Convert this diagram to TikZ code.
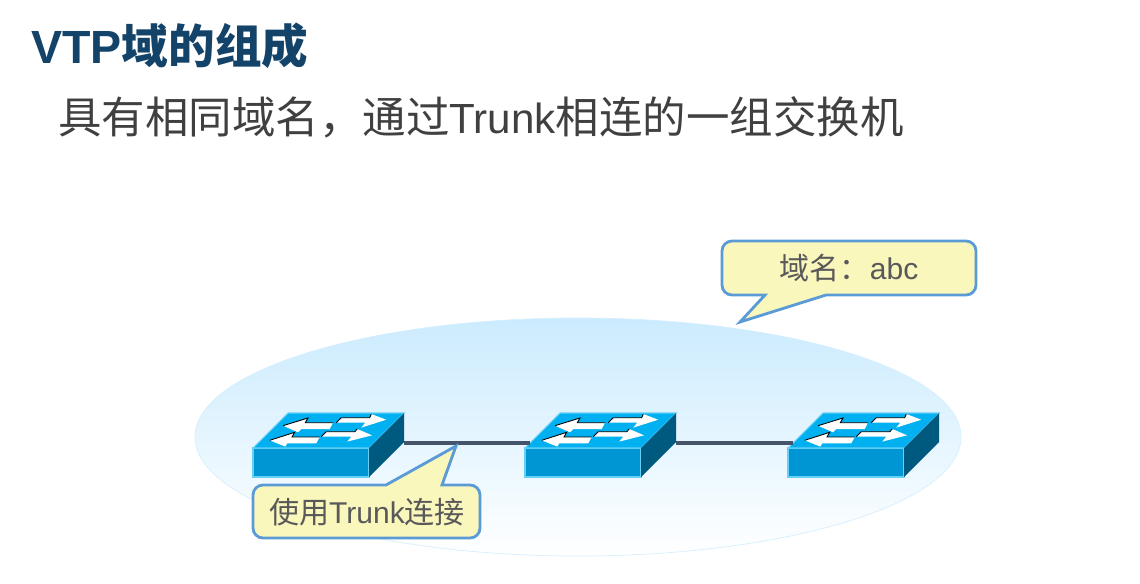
\documentclass[tikz,border=0pt]{standalone}
\usepackage{fontspec}
\setmainfont{Liberation Sans}
\newfontfamily\cjk{Noto Sans CJK SC}
\usetikzlibrary{positioning,calc}
\definecolor{titleblue}{HTML}{134369}
\definecolor{bodygray}{HTML}{404040}
\definecolor{calloutgray}{HTML}{595959}
\definecolor{calloutline}{HTML}{5B9BD5}
\definecolor{calloutfill}{HTML}{FAF7BD}
\definecolor{swfront}{HTML}{0095D3}
\definecolor{swtop}{HTML}{00B0F0}
\definecolor{swside}{HTML}{005A7F}
\definecolor{linkblue}{HTML}{44546A}
\definecolor{domainblue}{HTML}{CBEBFE}
\tikzset{
    x=0.02cm, y=-0.02cm,
    swedge/.style={draw=swtop!60!white, line width=0.6pt},
    swline/.style={draw=black, line width=0.5pt},
    link/.style={draw=linkblue, line width=2.3pt},
    callout/.style={draw=calloutline, line width=1.6pt, fill=calloutfill},
    callouttext/.style={text=calloutgray, font=\cjk\fontsize{17.1}{20}\selectfont, inner sep=0pt},
    switch/.pic={
        \draw[swedge, fill=swfront] (0,0) rectangle (116,-29);
        \draw[swedge, fill=swtop] (0,-29) -- (116,-29) -- (151,-64) -- (35,-64) -- cycle;
        \fill[swside] (116,-29) -- (151,-64) -- (151,-35) -- (116,0) -- cycle;
        % arrows on the top face
        \fill[white] (30,-51.3) -- (55,-59) -- (52.3,-54.3) -- (80,-54.3) -- (76.7,-48) -- (48.3,-48) -- (45,-44.7) -- cycle;
        \draw[swline] (30,-51.3) -- (55,-59) -- (52.3,-54.3) -- (80,-54.3);
        \fill[white] (16.7,-36.7) -- (41.7,-44.7) -- (39,-40) -- (66.7,-40) -- (63.3,-33.7) -- (34.3,-33.7) -- (32.3,-30.4) -- cycle;
        \draw[swline] (16.7,-36.7) -- (41.7,-44.7) -- (39,-40) -- (66.7,-40);
        \fill[white] (133.3,-57.3) -- (118.3,-63) -- (116.7,-59.3) -- (88.3,-59.3) -- (83.3,-54.4) -- (112.3,-54.4) -- (108.3,-49.4) -- cycle;
        \draw[swline] (83.3,-54.4) -- (88.3,-59.3) -- (116.7,-59.3) -- (118.3,-63);
        \fill[white] (119,-41.7) -- (104.3,-48) -- (101.7,-45.3) -- (73.3,-45.3) -- (68.3,-40.4) -- (98.3,-40.4) -- (94.3,-35.4) -- cycle;
        \draw[swline] (68.3,-40.4) -- (73.3,-45.3) -- (101.7,-45.3) -- (104.3,-48);
        \coordinate (-left) at (5,-34);
        \coordinate (-right) at (151,-34);
    }
}
\begin{document}
\begin{tikzpicture}
    \useasboundingbox (0,0) rectangle (1140,583);
    % Heading
    \node (title) [anchor=west, inner sep=0pt, text=titleblue] at (31,46)
        {\fontsize{26.5}{30}\selectfont\bfseries VTP{\cjk 域的组成}};
    \node (subtitle) [anchor=west, inner sep=0pt, text=bodygray] at (58,117)
        {\cjk\fontsize{24.75}{30}\selectfont 具有相同域名，通过{\rmfamily\fontsize{24}{30}\selectfont Trunk}相连的一组交换机};

    % Domain
    \draw[draw=domainblue!80!white, top color=domainblue, bottom color=white] (578,437) ellipse [x radius=383, y radius=119];

    % Switches
    \pic (swa) at (253,477) {switch};
    \pic (swb) at (525,477) {switch};
    \pic (swc) at (788,477) {switch};
    \draw[link] (swa-right) -- (swb-left);
    \draw[link] (swb-right) -- (swc-left);

    % Callouts
    \draw[callout] (765,295) -- (732,295) arc[start angle=90, end angle=180, radius=10] -- (722,251) arc[start angle=180, end angle=270, radius=10]
        -- (966,241) arc[start angle=270, end angle=360, radius=10] -- (976,285) arc[start angle=0, end angle=90, radius=10] -- (826,295) -- (740,322) -- cycle;
    \node (domainname) [callouttext] at (849,268) {域名：{\rmfamily abc}};
    \draw[callout] (386,485) -- (263,485) arc[start angle=270, end angle=180, radius=10] -- (253,528) arc[start angle=180, end angle=90, radius=10]
        -- (470,538) arc[start angle=90, end angle=0, radius=10] -- (480,495) arc[start angle=360, end angle=270, radius=10] -- (442,485) -- (456,446) -- cycle;
    \node (trunk) [callouttext] at (367,512) {使用{\rmfamily Trunk}连接};
\end{tikzpicture}
\end{document}
